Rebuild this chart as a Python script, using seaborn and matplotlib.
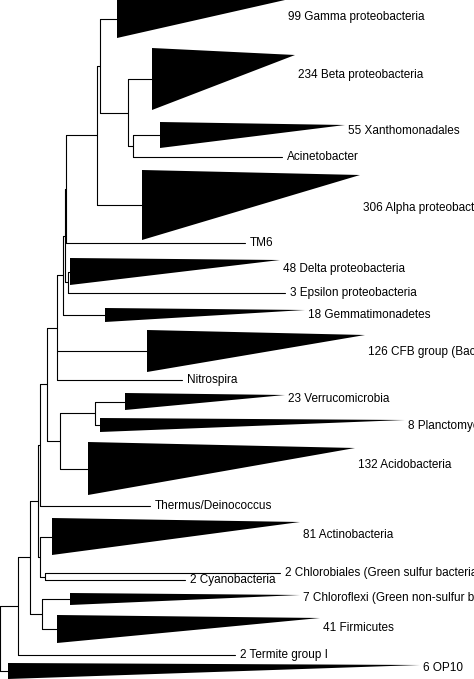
import matplotlib
matplotlib.use("Agg")
import matplotlib.pyplot as plt
import seaborn as sns
from matplotlib.patches import Polygon

sns.set_style("white")
plt.rcParams['font.family'] = ['Liberation Sans', 'DejaVu Sans']

# collapsed clades: name, apex x, top y, bottom y, right x, tip y
clade_names = ["99 Gamma proteobacteria", "234 Beta proteobacteria", "55 Xanthomonadales",
               "306 Alpha proteobacteria", "48 Delta proteobacteria", "18 Gemmatimonadetes",
               "126 CFB group (Bacteroidetes)", "23 Verrucomicrobia", "8 Planctomycetes",
               "132 Acidobacteria", "81 Actinobacteria", "7 Chloroflexi (Green non-sulfur bacteria)",
               "41 Firmicutes", "6 OP10"]
clade_x0 = [117, 152, 160, 142, 70, 105, 147, 125, 100, 88, 52, 70, 57, 8]
clade_top = [-10, 48, 122, 170, 258, 308, 330, 393, 418, 442, 518, 593, 615, 663]
clade_bot = [38, 110, 148, 240, 285, 322, 372, 410, 432, 495, 555, 605, 643, 679]
clade_x1 = [285, 295, 345, 360, 280, 305, 365, 285, 405, 355, 300, 300, 320, 420]
clade_tip = [0, 55, 125, 175, 260, 310, 335, 395, 420, 448, 522, 595, 618, 665]
clade_label_y = [17, 75, 131, 208, 269, 315, 352, 399, 426, 465, 535, 598, 628, 668]

# single leaves: name, end x, y
leaf_names = ["Acinetobacter", "TM6", "3 Epsilon proteobacteria", "Nitrospira",
              "Thermus/Deinococcus", "2 Chlorobiales (Green sulfur bacteria)",
              "2 Cyanobacteria", "2 Termite group I"]
leaf_x = [282, 245, 285, 182, 150, 280, 185, 235]
leaf_y = [157, 243, 293, 380, 506, 573, 580, 655]

fig = plt.figure(figsize=(4.74, 6.79), dpi=100)
ax = fig.add_axes([0, 0, 1, 1])
ax.set_xlim(0, 474)
ax.set_ylim(679, 0)
ax.axis("off")

pos = {}
for n, x0, t, b, x1, tp, ly in zip(clade_names, clade_x0, clade_top, clade_bot, clade_x1, clade_tip, clade_label_y):
    ax.add_patch(Polygon([(x0, t), (x1, tp), (x0, b)], closed=True, color="black", lw=0))
    ax.text(x1 + 3, ly, n, fontsize=8.5, va="center", ha="left", color="black", clip_on=True)
    pos[n] = (x0, (max(t, 0) + b) / 2)
for n, x, y in zip(leaf_names, leaf_x, leaf_y):
    pos[n] = (x, y)
    ax.text(x + 5, y, n, fontsize=8.5, va="center", ha="left", color="black", clip_on=True)

# internal nodes: (x, children)
tree = (0, [(18, [(30, [(38, [(40, [(47, [(57, [(63, [(65, [(66, [(97, ["306 Alpha proteobacteria",
            (100, [(128, ["234 Beta proteobacteria", (133, ["55 Xanthomonadales", "Acinetobacter"])]),
                   "99 Gamma proteobacteria"])]), "TM6"]),
            (68, ["48 Delta proteobacteria", "3 Epsilon proteobacteria"])]), "18 Gemmatimonadetes"]),
            "126 CFB group (Bacteroidetes)", "Nitrospira"]),
            (60, [(95, ["23 Verrucomicrobia", "8 Planctomycetes"]), "132 Acidobacteria"])]),
            "Thermus/Deinococcus"]),
            (40, ["81 Actinobacteria", (45, ["2 Chlorobiales (Green sulfur bacteria)", "2 Cyanobacteria"])])]),
            (42, ["7 Chloroflexi (Green non-sulfur bacteria)", "41 Firmicutes"])]),
            "2 Termite group I"]), "6 OP10"])

def draw(node):
    if isinstance(node, str):
        return pos[node][1]
    x, kids = node
    ys = []
    for k in kids:
        y = draw(k)
        kx = pos[k][0] if isinstance(k, str) else k[0]
        ax.plot([x, kx], [y, y], color="black", lw=0.8)
        ys.append(y)
    ax.plot([x, x], [min(ys), max(ys)], color="black", lw=0.8)
    return (min(ys) + max(ys)) / 2

draw(tree)
fig.savefig("out.png", dpi=100)
